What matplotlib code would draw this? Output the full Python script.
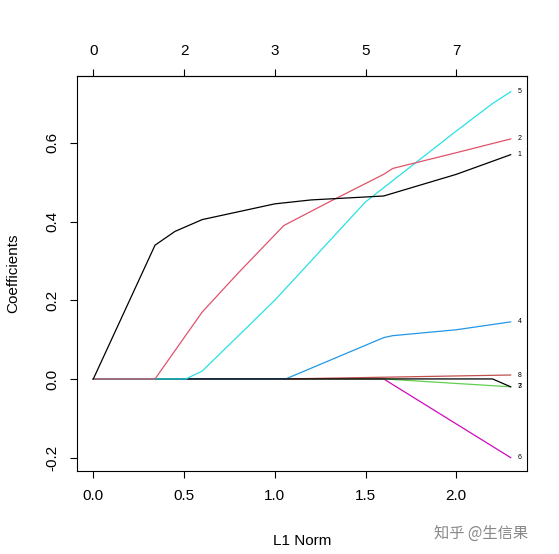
import matplotlib.pyplot as plt

plt.rcParams['font.family'] = ['Liberation Sans', 'DejaVu Sans']

# coefficient paths: (L1 norm, coefficient)
p1 = [(0, 0), (0.34, 0.34), (0.45, 0.375), (0.6, 0.405), (1.0, 0.445), (1.2, 0.455), (1.6, 0.465), (2.0, 0.52), (2.3, 0.57)]
p2 = [(0, 0), (0.34, 0), (0.6, 0.17), (0.8, 0.27), (1.05, 0.39), (1.3, 0.45), (1.6, 0.52), (1.65, 0.535), (2.0, 0.575), (2.3, 0.61)]
p5 = [(0, 0), (0.51, 0), (0.6, 0.02), (1.0, 0.2), (1.5, 0.45), (2.0, 0.63), (2.2, 0.7), (2.3, 0.73)]
p4 = [(0, 0), (1.06, 0), (1.6, 0.105), (1.65, 0.11), (2.0, 0.125), (2.3, 0.145)]
p8 = [(0, 0), (1.06, 0), (2.3, 0.01)]
p3 = [(0, 0), (2.2, 0), (2.3, -0.02)]
p7 = [(0, 0), (1.6, 0), (2.3, -0.02)]
p6 = [(0, 0), (1.6, 0), (2.3, -0.2)]
paths = {'1': p1, '2': p2, '3': p3, '4': p4, '5': p5, '6': p6, '7': p7, '8': p8}
colors = {'1': 'black', '2': '#DF536B', '3': 'black', '4': '#2297E6', '5': '#28E2E5',
          '6': '#CD0BBC', '7': '#61D04F', '8': '#C0504D'}
top_pos = [0, 0.5, 1.0, 1.5, 2.0]
top_lab = ['0', '2', '3', '5', '7']

fig = plt.figure(figsize=(5.59, 5.54), dpi=100)
ax = fig.add_axes([77 / 559, 83 / 554, 450 / 559, 395 / 554])
for k in ['6', '7', '8', '4', '3', '5', '2', '1']:
    xs, ys = zip(*paths[k])
    ax.plot(xs, ys, color=colors[k], lw=0.9)
    ax.text(xs[-1] + 0.04, ys[-1], k, fontsize=5, va='center', ha='left')
ax.set_xlim(-0.09, 2.39)
ax.set_ylim(-0.234, 0.77)
ax.set_xticks([0, 0.5, 1.0, 1.5, 2.0])
ax.set_xticklabels(['0.0', '0.5', '1.0', '1.5', '2.0'])
ax.set_yticks([-0.2, 0, 0.2, 0.4, 0.6])
ax.set_yticklabels(['-0.2', '0.0', '0.2', '0.4', '0.6'], rotation=90, va='center')
ax.set_xlabel('L1 Norm', fontsize=11, labelpad=22)
ax.set_ylabel('Coefficients', fontsize=11, labelpad=18)
ax.tick_params(labelsize=11, length=5, pad=8)
ax2 = ax.secondary_xaxis('top')
ax2.set_xticks(top_pos)
ax2.set_xticklabels(top_lab)
ax2.tick_params(labelsize=11, length=5, pad=8)
fig.text(0.86, 0.03, '知乎 @生信果', fontsize=11, color='#888888',
         family=['Noto Sans CJK SC', 'DejaVu Sans'], ha='center')
fig.savefig('out.png', dpi=100)
